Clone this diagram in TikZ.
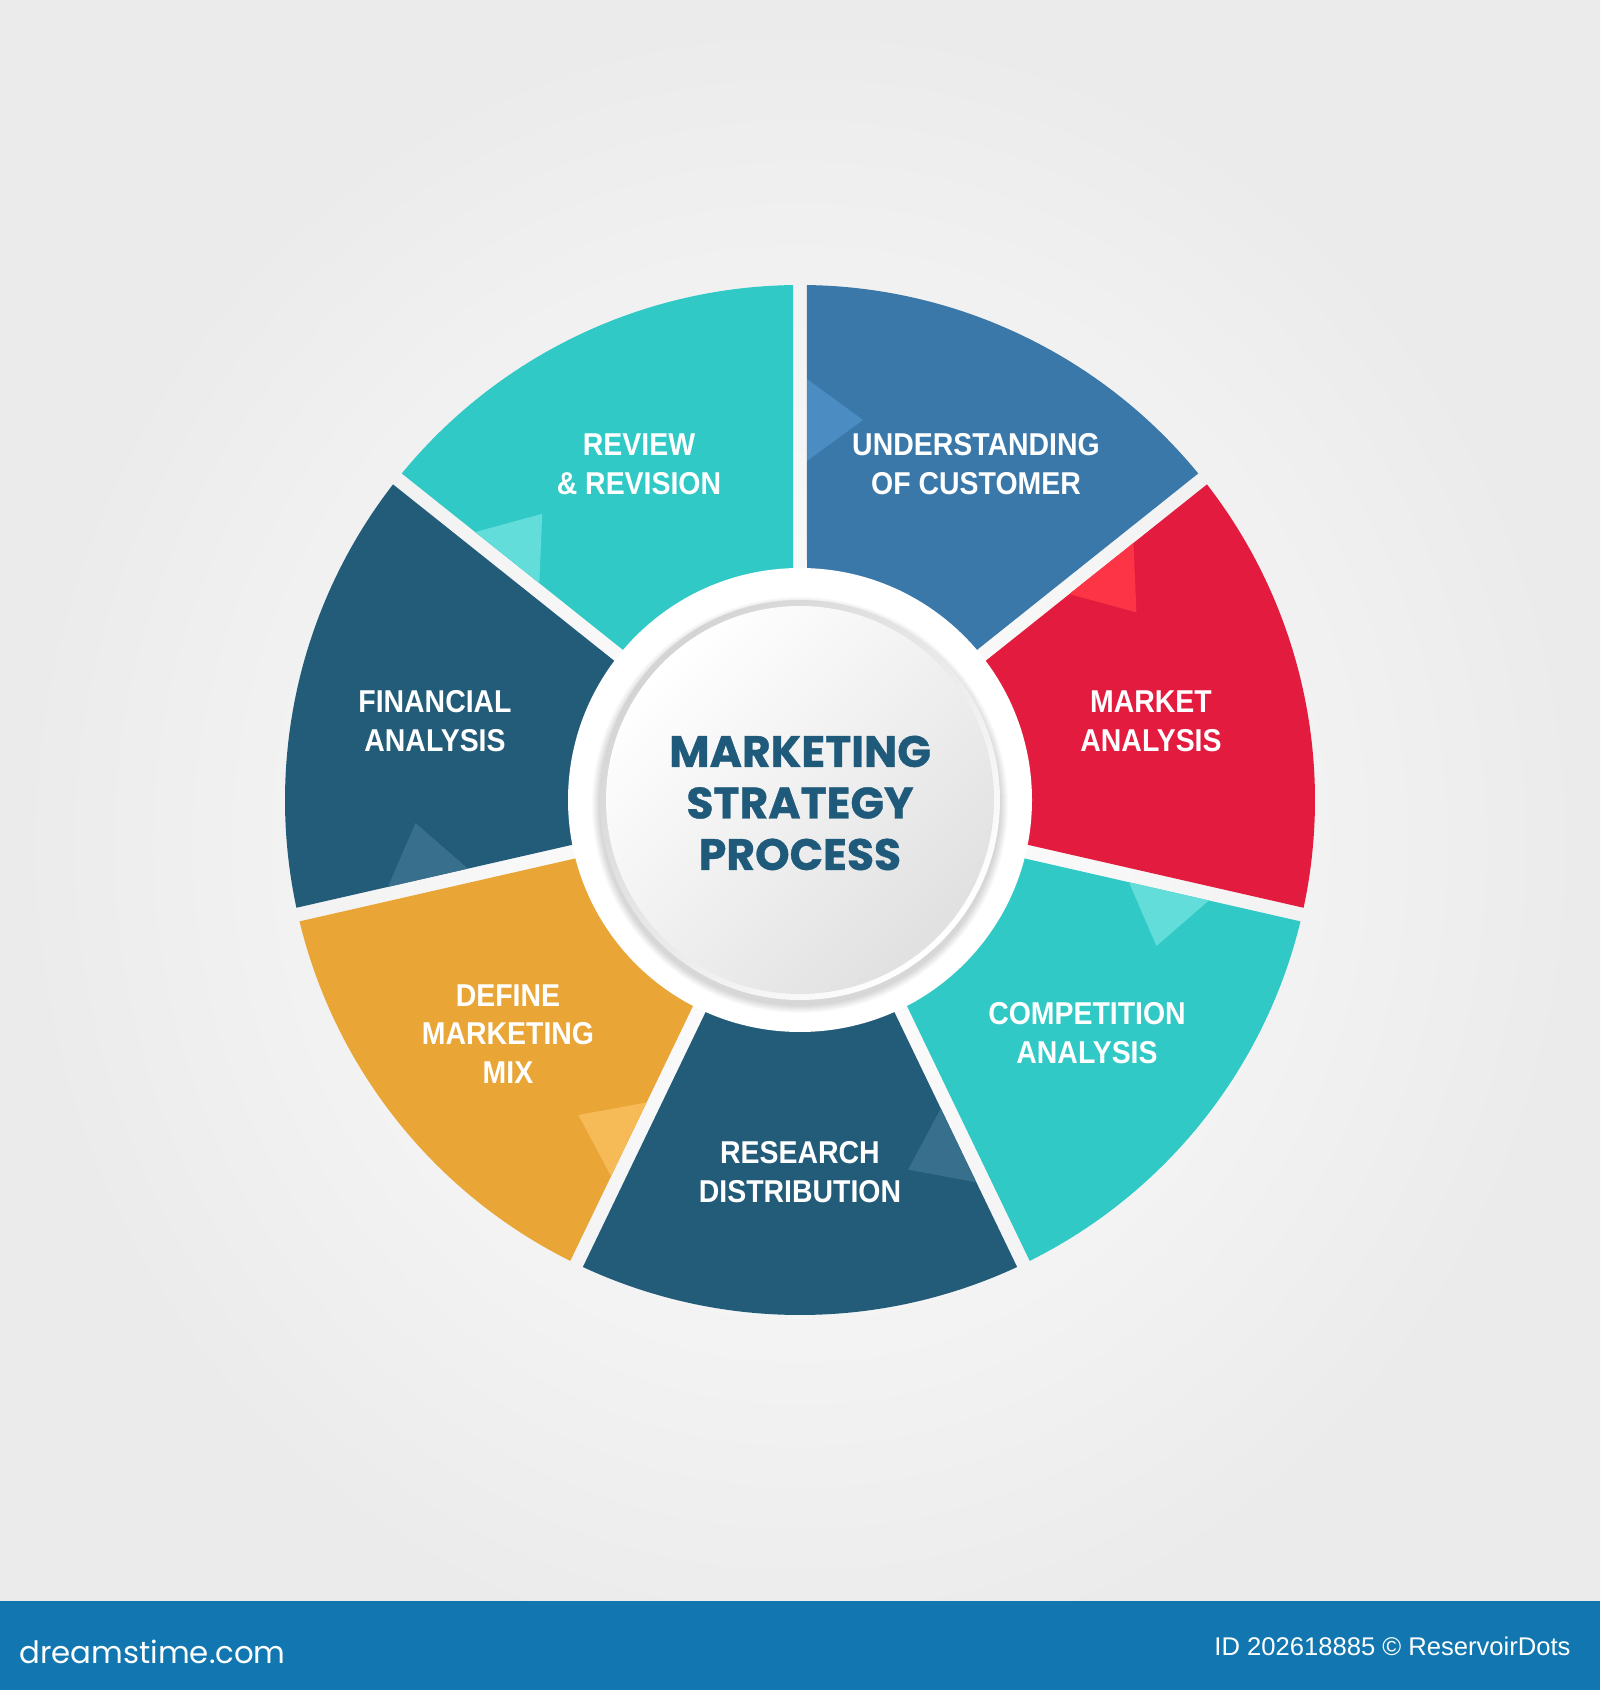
\documentclass[tikz,border=0pt]{standalone}
\usepackage{fontspec}
\usetikzlibrary{calc}
\setmainfont{Liberation Sans}
\newfontfamily\segFont[FakeStretch=0.9]{Liberation Sans}
\newfontfamily\titleFont[BoldFeatures={FakeBold=0.8}]{Poppins}

\definecolor{segBlue}{HTML}{3A78AA}
\definecolor{triBlue}{HTML}{4B8DC2}
\definecolor{segRed}{HTML}{E31C3F}
\definecolor{triRed}{HTML}{FC3446}
\definecolor{segTeal}{HTML}{30C9C5}
\definecolor{triTeal}{HTML}{63DDD9}
\definecolor{segNavy}{HTML}{235C79}
\definecolor{triNavy}{HTML}{386F8D}
\definecolor{segGold}{HTML}{E9A536}
\definecolor{triGold}{HTML}{F6BA57}
\definecolor{titleBlue}{HTML}{1F5A7B}
\definecolor{barBlue}{HTML}{1277B0}

\newcommand\outerRad{515}
\newcommand\ringRad{232}
\newcommand\diskRad{200}
\newcommand\gapHalf{7}
\newcommand\triRad{380}
\newcommand\segSpan{51.4286}

\tikzset{
  seglabel/.style={text=white, align=center, inner sep=0pt,
    font=\segFont\bfseries\fontsize{15.8}{19.3}\selectfont},
  title/.style={text=titleBlue, align=center, inner sep=0pt,
    font=\titleFont\bfseries\fontsize{22}{25.75}\selectfont},
}

\begin{document}
\begin{tikzpicture}[x=0.5pt,y=0.5pt]
    \useasboundingbox (-800,-890) rectangle (800,800);
    \shade[inner color=white, outer color=gray!16] (-800,-890) rectangle (800,800);

    %% the seven segments, clockwise from the top
    \foreach \Snumber/\segCol/\triCol/\segName/\lblX/\lblY/\segText in {
        0/segBlue/triBlue/customer/176/336/{UNDERSTANDING\\OF CUSTOMER},
        1/segRed/triRed/market/351/79/{MARKET\\ANALYSIS},
        2/segTeal/triTeal/competition/287/-233/{COMPETITION\\ANALYSIS},
        3/segNavy/triNavy/research/0/-372/{RESEARCH\\DISTRIBUTION},
        4/segGold/triGold/mix/-292/-234/{DEFINE\\MARKETING\\MIX},
        5/segNavy/triNavy/financial/-365/79/{FINANCIAL\\ANALYSIS},
        6/segTeal/triTeal/review/-161/336/{REVIEW\\\& REVISION}}{
      \pgfmathsetmacro\startAng{90-\Snumber*\segSpan}
      \pgfmathsetmacro\endAng{\startAng-\segSpan}
      \pgfmathsetmacro\midAng{\startAng-\segSpan/2}
      \pgfmathsetmacro\cutAng{asin(\gapHalf/\outerRad)}
      \fill[\segCol] (\midAng:16.13) -- (\startAng-\cutAng:\outerRad)
        arc[start angle=\startAng-\cutAng, end angle=\endAng+\cutAng, radius=\outerRad] -- cycle;
      %% lighter arrow head on the starting edge
      \fill[\triCol] ($(\startAng:\triRad)+(\startAng-90:\gapHalf)+(\startAng:41)$)
        -- ($(\startAng:\triRad)+(\startAng-90:\gapHalf)+(\startAng+180:41)$)
        -- ($(\startAng:\triRad)+(\startAng-90:63)$) -- cycle;
      \node[seglabel] (\segName) at (\lblX,\lblY) {\segText};
    }

    %% white ring and raised centre disk
    \fill[white] (0,0) circle (\ringRad);
    \foreach \k in {1,...,8}{
      \fill[black, opacity=0.02] (0,-5) circle (\diskRad+\k);
    }
    \shade[top color=gray!34, bottom color=white, shading angle=45] (0,0) circle (\diskRad);
    \shade[top color=white, bottom color=gray!24, shading angle=45] (0,0) circle (\diskRad-6);

    \node[title] (heading) at (0,-3) {MARKETING\\STRATEGY\\PROCESS};

    %% stock bar at the foot
    \fill[barBlue] (-800,-890) rectangle (800,-801);
    \node[anchor=west, text=white, inner sep=0pt, font=\titleFont\fontsize{15.4}{15.4}\selectfont] (site) at (-781,-852) {dreamstime.com};
    \node[anchor=east, text=white, inner sep=0pt, font=\fontsize{12.8}{12.8}\selectfont] (credit) at (771,-846) {ID 202618885 © ReservoirDots};

\end{tikzpicture}
\end{document}
